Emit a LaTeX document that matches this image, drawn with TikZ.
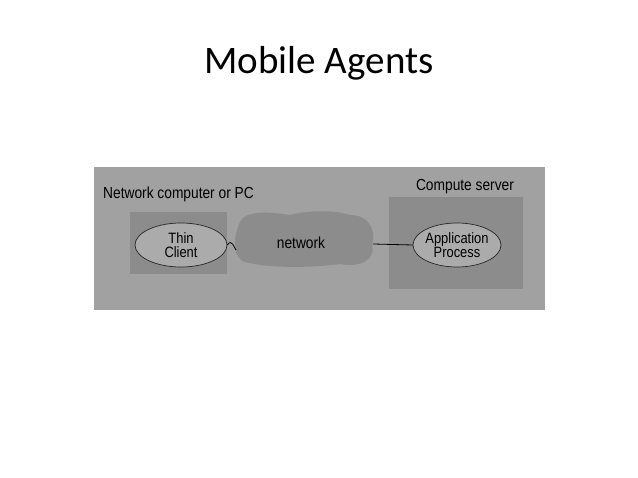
\documentclass[tikz,border=0pt]{standalone}
\usepackage{fontspec}
\usetikzlibrary{shapes.geometric}
\setmainfont{Carlito}
\newfontfamily\lab{Liberation Sans}
\newcommand{\nw}[1]{\scalebox{0.86}[1]{#1}}
\begin{document}
\begin{tikzpicture}[x=1pt,y=-1pt,
  lbl/.style={font=\lab\fontsize{16}{17}\selectfont,inner sep=0pt},
  ell/.style={draw=black!85,line width=0.7pt,fill=black!33,ellipse,minimum height=44pt,inner xsep=-8pt,inner ysep=0pt,align=center,font=\lab\fontsize{15}{14}\selectfont}]
\useasboundingbox[fill=white] (0,0) rectangle (638,478);
\node[font=\fontsize{39}{42}\selectfont] (title) at (319,63) {Mobile Agents};
\fill[black!37] (94,167) rectangle (545,310);
\fill[black!45] (130,212) rectangle (227,274);
\fill[black!45] (389,197) rectangle (523,289);
\node[lbl,anchor=west] (ncpc) at (103,194) {\nw{Network computer or PC}};
\node[lbl] (cs) at (465,187) {\nw{Compute server}};
\fill[black!45] (240,222) .. controls (245,210) and (270,212) .. (290,215)
  .. controls (310,210) and (335,210) .. (350,215)
  .. controls (372,215) and (376,235) .. (372,245)
  .. controls (376,260) and (360,268) .. (340,264)
  .. controls (310,268) and (270,268) .. (250,263)
  .. controls (232,262) and (232,240) .. (240,222) -- cycle;
\node[lbl] (net) at (301,243) {\nw{network}};
\coordinate (cl) at (236,250);
\coordinate (cr) at (373,244);
\node[ell,minimum width=92pt,inner xsep=0pt] (thin) at (181,245) {\nw{Thin}\\\nw{Client}};
\node[ell,minimum width=88pt] (app) at (457,245) {\nw{Application}\\\nw{Process}};
\draw[line width=0.8pt] (thin.east) .. controls (232,238) and (234,248) .. (cl);
\draw[line width=0.8pt] (cr) -- (app.west);
\end{tikzpicture}
\end{document}
